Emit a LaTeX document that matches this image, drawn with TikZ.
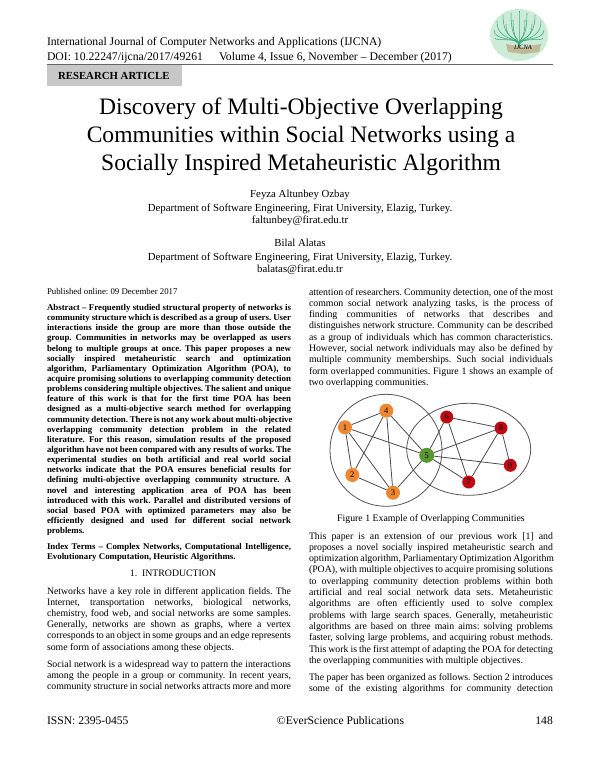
\documentclass[tikz,border=0pt]{standalone}
\usepackage{fontspec}
\setmainfont{Liberation Serif}
\newdimen\colw \colw=244pt
\newcommand{\jl}[1]{\hbox to \colw{\spaceskip=.25em plus 1fil minus .06em\relax #1}}
\newcommand{\rl}[1]{\hbox{\spaceskip=.25em minus .03em\relax #1}}
\newcommand{\setsz}[2]{\fontsize{#1}{#2}\selectfont\baselineskip=#2pt\lineskip=0pt\lineskiplimit=-10pt\frenchspacing}
\definecolor{comgray}{RGB}{85,85,85}
\definecolor{orangenode}{RGB}{238,135,50}
\definecolor{rednode}{RGB}{190,10,20}
\definecolor{greennode}{RGB}{90,150,50}
\definecolor{logofill}{RGB}{205,236,215}
\definecolor{logotree}{RGB}{60,170,125}
\definecolor{logobook}{RGB}{190,185,150}
\tikzset{
  x=1pt,y=-1pt,
  txt/.style={anchor=base west,inner sep=0,outer sep=0},
  ctr/.style={anchor=base,inner sep=0,outer sep=0},
  onode/.style={circle,fill=orangenode,minimum size=14pt,inner sep=0,font=\fontsize{8.5}{9}\selectfont},
  rnode/.style={circle,fill=rednode,minimum size=13pt,inner sep=0,font=\fontsize{8.5}{9}\selectfont},
  gnode/.style={circle,fill=greennode,minimum size=15pt,inner sep=0,font=\fontsize{8.5}{9}\selectfont},
  comm/.style={draw=comgray,line width=.8pt},
  edge/.style={draw=black!70,line width=.8pt},
  branch/.style={draw=logotree,line width=.55pt}
}
\begin{document}
\begin{tikzpicture}
\useasboundingbox (0,0) rectangle (600,776);
\fill[white] (0,0) rectangle (600,776);
% logo
\fill[logofill] (519,35) ellipse (29 and 26);
\coordinate (lr) at (519,46);
\foreach \a/\b in {494/30,497/21,503/15,511/13,519/11,527/13,535/15,541/21,544/30,495/38,543/38,506/24,532/24,513/20,525/20}{
  \draw[branch] (lr) .. controls (519,36) and (\a,42) .. (\a,\b);}
\fill[logobook] (506,44) -- (523,47) -- (541,44) -- (539,52) -- (523,54) -- (508,52) -- cycle;
\node[inner sep=0] (logotext) at (523,47) {\fontsize{6.5}{6.5}\selectfont\itshape IJCNA};
% header
\node[txt] (hone) at (47,46) {\setsz{11.7}{13}International Journal of Computer Networks and Applications (IJCNA)};
\node[txt] (htwo) at (47,60.5) {\setsz{11.7}{13}DOI: 10.22247/ijcna/2017/49261};
\node[txt] (hthree) at (219,60.5) {\setsz{11.7}{13}Volume 4, Issue 6, November – December (2017)};
\draw[black!60,line width=.8pt] (47,64.7) -- (553,64.7);
\fill[black!22] (47,65.5) rectangle (182,85.5);
\node[txt] (ra) at (58,79) {\setsz{10.8}{13}\bfseries RESEARCH ARTICLE};
% title
\node[ctr] (tone) at (301,114) {\setsz{23.55}{28}Discovery of Multi-Objective Overlapping};
\node[ctr] (ttwo) at (301,142) {\setsz{23.55}{28}Communities within Social Networks using a};
\node[ctr] (tthree) at (301,170) {\setsz{23.55}{28}Socially Inspired Metaheuristic Algorithm};
% authors
\node[ctr] (aone) at (300,197) {\setsz{10.8}{13}Feyza Altunbey Ozbay};
\node[ctr] (atwo) at (300,211.5) {\setsz{10.8}{13}Department of Software Engineering, Firat University, Elazig, Turkey.};
\node[ctr] (athree) at (300,223) {\setsz{10.8}{13}faltunbey@firat.edu.tr};
\node[ctr] (bone) at (300,246) {\setsz{10.8}{13}Bilal Alatas};
\node[ctr] (btwo) at (300,260.5) {\setsz{10.8}{13}Department of Software Engineering, Firat University, Elazig, Turkey.};
\node[ctr] (bthree) at (300,272) {\setsz{10.8}{13}balatas@firat.edu.tr};
% left column
\node[txt] (pub) at (47,294) {\setsz{8.8}{10}Published online: 09 December 2017};
\node[txt] (abstract) at (47,310.5) {\vtop{\setsz{8.85}{10.14}\bfseries
\jl{Abstract – Frequently studied structural property of networks is}
\jl{community structure which is described as a group of users. User}
\jl{interactions inside the group are more than those outside the}
\jl{group. Communities in networks may be overlapped as users}
\jl{belong to multiple groups at once. This paper proposes a new}
\jl{socially inspired metaheuristic search and optimization}
\jl{algorithm, Parliamentary Optimization Algorithm (POA), to}
\jl{acquire promising solutions to overlapping community detection}
\jl{problems considering multiple objectives. The salient and unique}
\jl{feature of this work is that for the first time POA has been}
\jl{designed as a multi-objective search method for overlapping}
\jl{community detection. There is not any work about multi-objective}
\jl{overlapping community detection problem in the related}
\jl{literature. For this reason, simulation results of the proposed}
\jl{algorithm have not been compared with any results of works. The}
\jl{experimental studies on both artificial and real world social}
\jl{networks indicate that the POA ensures beneficial results for}
\jl{defining multi-objective overlapping community structure. A}
\jl{novel and interesting application area of POA has been}
\jl{introduced with this work. Parallel and distributed versions of}
\jl{social based POA with optimized parameters may also be}
\jl{efficiently designed and used for different social network}
\rl{problems.}}};
\node[txt] (index) at (47,549.5) {\vtop{\setsz{8.85}{10}\bfseries
\jl{Index Terms – Complex Networks, Computational Intelligence,}
\rl{Evolutionary Computation, Heuristic Algorithms.}}};
\node[ctr] (intro) at (173,576) {\setsz{9.8}{11}1.\ \ INTRODUCTION};
\node[txt] (netp) at (47,594) {\vtop{\setsz{9.8}{11.2}
\jl{Networks have a key role in different application fields. The}
\jl{Internet, transportation networks, biological networks,}
\jl{chemistry, food web, and social networks are some samples.}
\jl{Generally, networks are shown as graphs, where a vertex}
\jl{corresponds to an object in some groups and an edge represents}
\rl{some form of associations among these objects.}}};
\node[txt] (socp) at (47,667) {\vtop{\setsz{9.8}{11.2}
\jl{Social network is a widespread way to pattern the interactions}
\jl{among the people in a group or community. In recent years,}
\jl{community structure in social networks attracts more and more}}};
% right column
\node[txt] (attp) at (309,295) {\vtop{\setsz{9.8}{11.3}
\jl{attention of researchers. Community detection, one of the most}
\jl{common social network analyzing tasks, is the process of}
\jl{finding communities of networks that describes and}
\jl{distinguishes network structure. Community can be described}
\jl{as a group of individuals which has common characteristics.}
\jl{However, social network individuals may also be defined by}
\jl{multiple community memberships. Such social individuals}
\jl{form overlapped communities. Figure 1 shows an example of}
\rl{two overlapping communities.}}};
% figure
\draw[comm] (386,450.3) circle (56);
\draw[comm] (468.7,449.3) ellipse (62 and 46);
\node[onode] (n1) at (345,427.3) {1};
\node[onode] (n4) at (386.3,410.7) {4};
\node[onode] (n2) at (352.3,475) {2};
\node[onode] (n3) at (393,492.7) {3};
\node[gnode] (n5) at (426.7,455.3) {5};
\node[rnode] (n6) at (446.7,417) {6};
\node[rnode] (n8) at (501,428) {8};
\node[rnode] (n9) at (510.3,465.3) {9};
\node[rnode] (n7) at (468.7,482) {7};
\foreach \a/\b in {n1/n4,n1/n2,n1/n3,n1/n5,n4/n2,n4/n3,n4/n5,n2/n3,n3/n5,n5/n6,n5/n8,n5/n9,n5/n7,n6/n8,n6/n7,n8/n7,n8/n9}{
  \draw[edge] (\a) -- (\b);}
\node[ctr] (caption) at (431,521) {\setsz{9.8}{11}Figure 1 Example of Overlapping Communities};
\node[txt] (thisp) at (309,539) {\vtop{\setsz{9.8}{11.3}
\jl{This paper is an extension of our previous work [1] and}
\jl{proposes a novel socially inspired metaheuristic search and}
\jl{optimization algorithm, Parliamentary Optimization Algorithm}
\jl{(POA), with multiple objectives to acquire promising solutions}
\jl{to overlapping community detection problems within both}
\jl{artificial and real social network data sets. Metaheuristic}
\jl{algorithms are often efficiently used to solve complex}
\jl{problems with large search spaces. Generally, metaheuristic}
\jl{algorithms are based on three main aims: solving problems}
\jl{faster, solving large problems, and acquiring robust methods.}
\jl{This work is the first attempt of adapting the POA for detecting}
\rl{the overlapping communities with multiple objectives.}}};
\node[txt] (paperp) at (309,680) {\vtop{\setsz{9.8}{11.2}
\jl{The paper has been organized as follows. Section 2 introduces}
\jl{some of the existing algorithms for community detection}}};
% footer
\node[txt] (issn) at (47,724) {\setsz{11.6}{13}ISSN: 2395-0455};
\node[ctr] (pubs) at (340.5,724) {\setsz{11.6}{13}©EverScience Publications};
\node[anchor=base east,inner sep=0] (pageno) at (553,724) {\setsz{11.6}{13}148};
\end{tikzpicture}
\end{document}
